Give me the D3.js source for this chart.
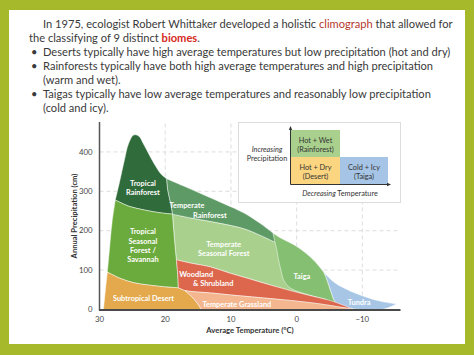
<!DOCTYPE html>
<html><head><meta charset="utf-8">
<script src="https://cdn.jsdelivr.net/npm/d3@7"></script>
<style>
html,body{margin:0;padding:0;background:#a5b92b;}
svg{display:block;}
</style></head><body>
<svg id="c" width="474" height="355"></svg>
<script>
// ---------------- data ----------------
const xTicks = [30, 20, 10, 0, -10];
const yTicks = [0, 100, 200, 300, 400];
const xGrid = [20, 10, 0, -10];
const yGrid = [100, 200, 300, 400];

// biome boundaries: [temperature °C, precipitation cm]
const desertLeft = [[29.4,0],[29.1,50],[28.8,95]];
const desertTop = [[28.8,95],[27.0,80],[24.8,68],[22.5,62],[20.4,58],[18.0,55]];
const desertRightUpper = [[18.0,55],[17.0,48]];
const desertRightLower = [[17.0,48],[16.0,33],[15.2,18],[14.5,0]];
const tropSeasonalLeft = [[28.8,95],[28.5,150],[28.1,220],[27.6,278]];
const tropRainBottom = [[27.6,278],[25.5,262],[23.0,252],[21.0,246],[18.9,242]];
const tropRainOuter = [[27.6,278],[27.0,320],[26.2,380],[25.6,420],[24.8,443],[24.0,440],[23.3,420],[22.5,395],[21.5,365],[20.6,343],[19.8,332]];
const tropRainRight = [[19.8,332],[19.6,300],[19.2,270],[18.9,242]];
const tempRainTop = [[19.8,332],[17.0,312],[14.0,290],[11.0,268],[8.0,245],[5.5,218],[3.6,194]];
const tempRainEnd = [[3.6,194],[3.3,171]];
const tempRainBottom = [[18.9,242],[16.0,232],[12.0,220],[8.0,205],[5.5,188],[3.3,171]];
const tropSeasonalRightUpper = [[18.9,242],[18.7,200],[18.5,160],[18.3,126]];
const tropSeasonalRightLower = [[18.3,126],[18.1,90],[18.0,55]];
const woodlandTop = [[18.3,126],[16.2,118],[13.1,108],[10.1,92],[7.0,77],[4.0,62],[1.0,48],[-2.1,35],[-4.6,25]];
const woodlandTopEast = [[-4.6,25],[-5.8,19],[-7.4,9],[-8.6,1.5]];
const grassTop = [[17.0,48],[16.2,46],[13.1,42],[10.1,37],[5.5,30],[1.0,23],[-3.6,14],[-7.0,5],[-8.6,1.5]];
const grassTip = [[-8.6,1.5],[-9.5,0]];
const taigaLeft = [[3.3,171],[3.0,150],[2.8,130],[2.4,100],[1.9,72],[1.0,55],[-0.5,44],[-2.5,34],[-4.6,25]];
const taigaTop = [[3.6,194],[2.5,182],[-0.2,158],[-2.6,125],[-4.1,95]];
const taigaTundra = [[-4.1,95],[-4.6,75],[-5.2,45],[-5.8,20],[-6.8,5],[-7.5,0]];
const tundraTop = [[-4.1,95],[-5.5,72],[-7.5,52],[-10.5,32],[-13.0,20],[-15.2,14]];
const tundraTip = [[-15.2,14],[-14.0,5],[-13.0,0]];

const biomeColors = {
  tundra:"#a7c5e5", taiga:"#84bf72", tempSeasonal:"#a9d18d", tempRain:"#5d9a65",
  tropRain:"#2f6b3b", tropSeasonal:"#6bab3d", desert:"#e3a94c", woodland:"#dc674d", grass:"#f3b68e"
};

const biomeLabels = [
  ["Tropical",23.4,321],["Rainforest",23.4,296],
  ["Temperate",16.7,263],["Rainforest",13.2,240],
  ["Tropical",23.4,199],["Seasonal",23.4,174],["Forest /",23.4,151],["Savannah",23.4,128],
  ["Temperate",11.1,166],["Seasonal Forest",11.1,143],
  ["Woodland",15.3,88],["& Shrubland",12.7,65],
  ["Subtropical Desert",23.3,27],
  ["Temperate Grassland",9.1,14],
  ["Taiga",-0.8,85],
  ["Tundra",-9.5,19]
];

const headerLines = [
  {x:43, parts:[["In 1975, ecologist Robert Whittaker developed a holistic ","n"],["climograph","c"],[" that allowed for","n"]]},
  {x:29, parts:[["the classifying of 9 distinct ","n"],["biomes","b"],[".","n"]]},
  {x:43, bullet:true, parts:[["Deserts typically have high average temperatures but low precipitation (hot and dry)","n"]]},
  {x:43, bullet:true, parts:[["Rainforests typically have both high average temperatures and high precipitation","n"]]},
  {x:43, parts:[["(warm and wet).","n"]]},
  {x:43, bullet:true, parts:[["Taigas typically have low average temperatures and reasonably low precipitation","n"]]},
  {x:43, parts:[["(cold and icy).","n"]]}
];
const headerBaselines = [28, 41.5, 56, 70, 83.5, 98, 112];

// ---------------- drawing ----------------
const svg = d3.select("#c");
svg.append("rect").attr("x",9).attr("y",10).attr("width",456).attr("height",334).attr("fill","#fff");

// header
const hdr = svg.append("g").attr("font-family","Lato, 'Open Sans', sans-serif").attr("fill","#3a3a3a");
let fs = 12;
const probe = hdr.append("text").attr("font-size",fs).text(headerLines[0].parts.map(p=>p[0]).join(""));
const w = probe.node().getComputedTextLength();
probe.remove();
fs = fs * 410 / w;
headerLines.forEach((ln,i)=>{
  const t = hdr.append("text").attr("x",ln.x).attr("y",headerBaselines[i]).attr("font-size",fs);
  ln.parts.forEach(p=>{
    const ts = t.append("tspan").text(p[0]);
    if(p[1]==="c") ts.attr("fill","#b5382c");
    if(p[1]==="b") ts.attr("fill","#d42a22").attr("font-weight","bold");
  });
  if(ln.bullet) hdr.append("text").attr("x",31).attr("y",headerBaselines[i]).attr("font-size",fs).text("•");
});

// scales
const x = d3.scaleLinear().domain([30,-15.8]).range([99.5,400.5]);
const y = d3.scaleLinear().domain([0,480]).range([309.5,120.4]);

// grid
const grid = svg.append("g").attr("stroke","#d4d4d4").attr("stroke-width",0.8).attr("stroke-dasharray","4,3");
yGrid.forEach(v=>grid.append("line").attr("x1",x(30)).attr("x2",x(-15.8)).attr("y1",y(v)).attr("y2",y(v)));
xGrid.forEach(v=>grid.append("line").attr("x1",x(v)).attr("x2",x(v)).attr("y1",y(0)).attr("y2",y(476)));

// biome paths
const lineGen = d3.line().x(d=>x(d[0])).y(d=>y(d[1])).curve(d3.curveCatmullRom.alpha(0.5));
function poly(segs){
  let d = "";
  segs.forEach((s,i)=>{
    const pts = s[1] ? s[0].slice().reverse() : s[0];
    let p = lineGen(pts);
    if(i>0) p = "L" + p.slice(1);
    d += p;
  });
  return d + "Z";
}
const baseline = (a,b)=>[[a,0],[b,0]];
const shapes = [
  ["tundra", [[tundraTop,true],[taigaTundra,false],[baseline(-7.5,-13.0),false],[tundraTip,true]]],
  ["taiga", [[taigaTop,false],[taigaTundra,false],[baseline(-7.5,2.0),false],[[[2.0,0],[3.6,194]],false]]],
  ["tempSeasonal", [[tempRainBottom,false],[taigaLeft,false],[woodlandTop,true],[tropSeasonalRightUpper,true]]],
  ["tempRain", [[tempRainTop,false],[tempRainEnd,false],[tempRainBottom,true],[tropRainRight,true]]],
  ["tropRain", [[tropRainOuter,false],[tropRainRight,false],[tropRainBottom,true]]],
  ["tropSeasonal", [[tropSeasonalLeft,false],[tropRainBottom,false],[tropSeasonalRightUpper,false],[tropSeasonalRightLower,false],[desertTop,true]]],
  ["desert", [[desertLeft,false],[desertTop,false],[desertRightUpper,false],[desertRightLower,false],[baseline(14.5,29.4),false]]],
  ["woodland", [[tropSeasonalRightLower,false],[desertRightUpper,false],[grassTop,false],[woodlandTopEast,true],[woodlandTop,true]]],
  ["grass", [[desertRightLower,false],[baseline(14.5,-9.5),false],[grassTip,true],[grassTop,true]]]
];
const bg = svg.append("g");
bg.selectAll("path").data(shapes).join("path")
  .attr("d",d=>poly(d[1]))
  .attr("fill",d=>biomeColors[d[0]])
  .attr("stroke","#fff").attr("stroke-opacity",0.6).attr("stroke-width",0.8).attr("stroke-linejoin","round");

// labels
svg.append("g").attr("font-family","Lato, sans-serif").attr("font-weight","bold").attr("font-size",7.4)
  .attr("fill","#fff").attr("text-anchor","middle")
  .selectAll("text").data(biomeLabels).join("text")
  .attr("x",d=>x(d[1])).attr("y",d=>y(d[2])+2.6).text(d=>d[0]);

// axes
svg.append("line").attr("x1",x(30)).attr("x2",x(30)).attr("y1",y(0)+1).attr("y2",y(476))
  .attr("stroke","#555").attr("stroke-width",1.5);
svg.append("line").attr("x1",x(30)-0.5).attr("x2",x(-15.8)).attr("y1",y(0)+0.5).attr("y2",y(0)+0.5)
  .attr("stroke","#4a4a4a").attr("stroke-width",2);
const tk = svg.append("g").attr("font-family","Lato, sans-serif").attr("font-size",7.8).attr("fill","#444");
tk.selectAll(".xt").data(xTicks).join("text").attr("class","xt")
  .attr("x",d=>x(d)).attr("y",y(0)+12).attr("text-anchor","middle").text(d=>d<0?"\u2212"+Math.abs(d):d);
tk.selectAll(".yt").data(yTicks).join("text").attr("class","yt")
  .attr("x",x(30)-7).attr("y",d=>y(d)+2.7).attr("text-anchor","end").text(d=>d);
svg.append("text").attr("x",250).attr("y",333).attr("text-anchor","middle")
  .attr("font-family","Lato, sans-serif").attr("font-weight","bold").attr("font-size",7.7).attr("fill","#333")
  .text("Average Temperature (°C)");
svg.append("text").attr("transform","translate(77,216) rotate(-90)").attr("text-anchor","middle")
  .attr("font-family","Lato, sans-serif").attr("font-weight","bold").attr("font-size",7.6).attr("fill","#333")
  .text("Annual Precipitation (cm)");

// inset
const ins = svg.append("g").attr("font-family","Lato, sans-serif").attr("font-size",7.3).attr("fill","#333");
ins.append("rect").attr("x",238.5).attr("y",122.5).attr("width",162).attr("height",80)
  .attr("fill","#fff").attr("stroke","#dcdcdc").attr("stroke-width",1);
ins.append("rect").attr("x",291).attr("y",130).attr("width",49).attr("height",27).attr("fill","#a9d18d");
ins.append("rect").attr("x",291).attr("y",157).attr("width",49).attr("height",27).attr("fill","#fcd580");
ins.append("rect").attr("x",340).attr("y",157).attr("width",48).attr("height",27).attr("fill","#a6c4e5");
ins.append("line").attr("x1",290.5).attr("x2",290.5).attr("y1",184.5).attr("y2",129).attr("stroke","#333").attr("stroke-width",1);
ins.append("line").attr("x1",290.5).attr("x2",388).attr("y1",184.5).attr("y2",184.5).attr("stroke","#333").attr("stroke-width",1);
ins.append("path").attr("d","M290.5,126 L288.8,130 L292.2,130Z").attr("fill","#333");
ins.append("path").attr("d","M391,184.5 L387,182.8 L387,186.2Z").attr("fill","#333");
[["Hot + Wet",315.5,142.5],["(Rainforest)",315.5,152],["Hot + Dry",315.5,169.5],["(Desert)",315.5,179],["Cold + Icy",364,169.5],["(Taiga)",364,179]]
  .forEach(d=>ins.append("text").attr("x",d[1]).attr("y",d[2]).attr("text-anchor","middle").text(d[0]));
ins.append("text").attr("x",267).attr("y",151.5).attr("text-anchor","middle").attr("font-style","italic").text("Increasing");
ins.append("text").attr("x",267).attr("y",161).attr("text-anchor","middle").text("Precipitation");
const dt = ins.append("text").attr("x",340).attr("y",195.5).attr("text-anchor","middle");
dt.append("tspan").attr("font-style","italic").text("Decreasing");
dt.append("tspan").text(" Temperature");
</script>
</body></html>
